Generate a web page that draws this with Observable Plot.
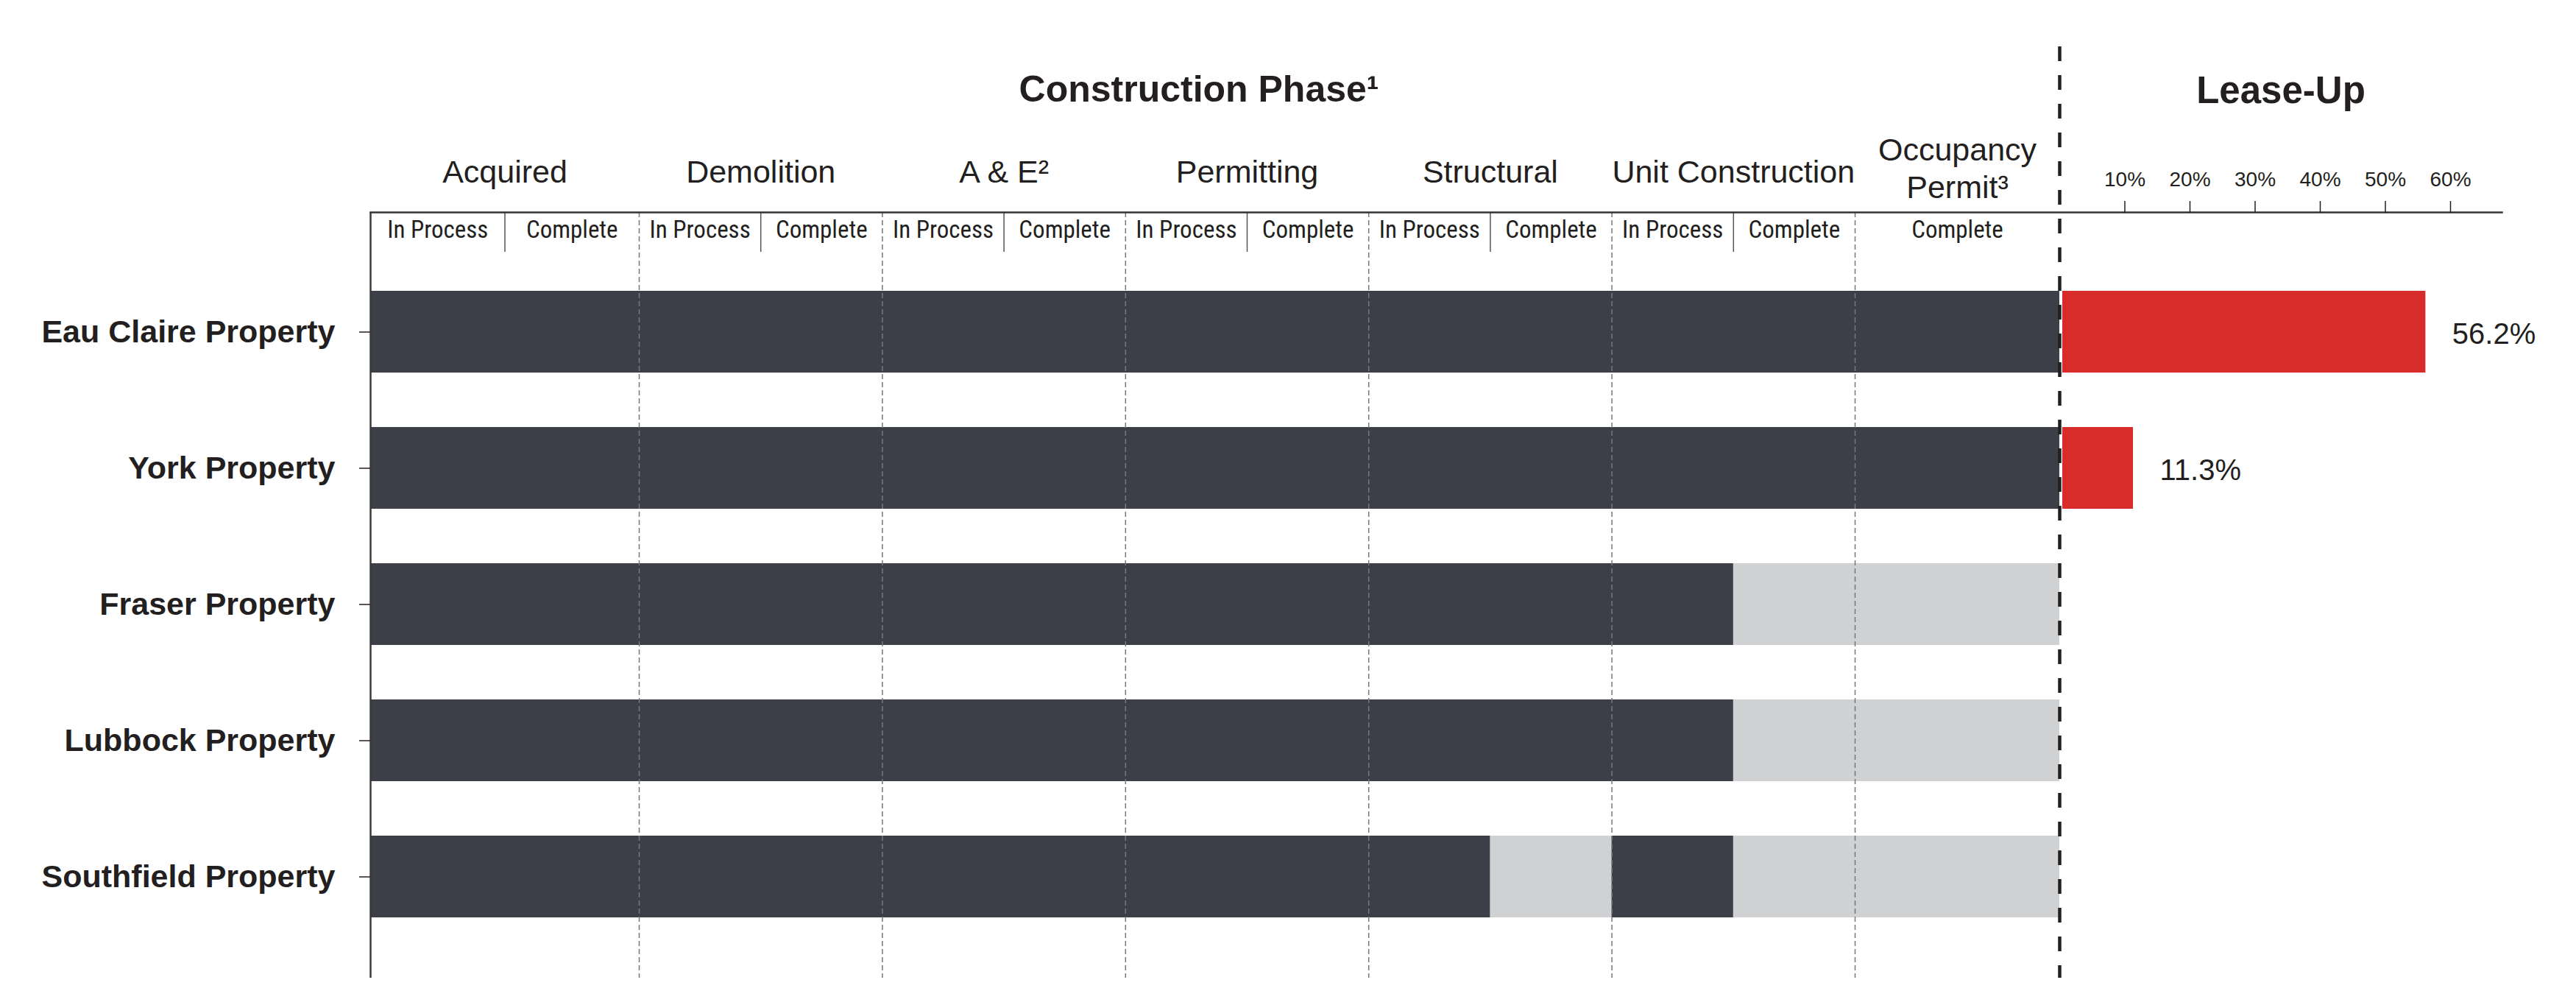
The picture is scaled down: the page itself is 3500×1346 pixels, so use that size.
<!DOCTYPE html>
<html>
<head>
<meta charset="utf-8">
<script src="https://cdn.jsdelivr.net/npm/d3@7"></script>
<script src="https://cdn.jsdelivr.net/npm/@observablehq/plot@0.6"></script>
<style>
  html, body { margin: 0; padding: 0; background: #ffffff; }
  #chart { width: 3500px; height: 1346px; }
</style>
</head>
<body>
<div id="chart"></div>
<script>
// ---------------- data ----------------
const properties = ["Eau Claire Property", "York Property", "Fraser Property", "Lubbock Property", "Southfield Property"];

// construction phases and their sub-steps
const phases = ["Acquired", "Demolition", "A & E²", "Permitting", "Structural", "Unit Construction", "Occupancy\nPermit³"];
const phaseSteps = [
  ["In Process", "Complete"],
  ["In Process", "Complete"],
  ["In Process", "Complete"],
  ["In Process", "Complete"],
  ["In Process", "Complete"],
  ["In Process", "Complete"],
  ["Complete"]
];

// status of each of the 13 steps (1 = done, 0 = outstanding), one list per property
const eauClaireStatus  = [1, 1, 1, 1, 1, 1, 1, 1, 1, 1, 1, 1, 1];
const yorkStatus       = [1, 1, 1, 1, 1, 1, 1, 1, 1, 1, 1, 1, 1];
const fraserStatus     = [1, 1, 1, 1, 1, 1, 1, 1, 1, 1, 1, 0, 0];
const lubbockStatus    = [1, 1, 1, 1, 1, 1, 1, 1, 1, 1, 1, 0, 0];
const southfieldStatus = [1, 1, 1, 1, 1, 1, 1, 1, 1, 0, 1, 0, 0];
const statuses = [eauClaireStatus, yorkStatus, fraserStatus, lubbockStatus, southfieldStatus];

// lease-up (% leased)
const leaseUp = [56.2, 11.3, null, null, null];
const leaseTicks = [10, 20, 30, 40, 50, 60];

const titles = ["Construction Phase¹", "Lease-Up"];

// ---------------- layout / style ----------------
const W = 3500, H = 1346;
const mLeft = 503, mRight = 101, mTop = 288, mBottom = 18;
// x scale: step units 0..13 for construction, then 13..14 = 0..100% lease-up
const xDomain = [0, 2, 12, 13, 14];
const xRange  = [503, 868, 2520, 2798, 3683];
const xs = d3.scaleLinear(xDomain, xRange);
const leaseOrigin = 13;
const leaseX = (p) => leaseOrigin + p / 100;

const DARK = "#3d3f48", LIGHT = "#d0d1d3", RED = "#d62d2a", INK = "#231f20";
const REG = "'Liberation Sans', Arial, Helvetica, sans-serif";
const NARROW = "'Liberation Sans Narrow', 'Roboto Condensed', 'DejaVu Sans Condensed', 'Liberation Sans', sans-serif";

// ---------------- derived tables ----------------
const steps = [];
phases.forEach((ph, p) => phaseSteps[p].forEach(s => steps.push({phase: ph, label: s})));
steps.forEach((s, i) => { s.x1 = i; s.x2 = i + 1; });

const phaseRows = [];
{
  let i = 0;
  phases.forEach((ph, p) => {
    const n = phaseSteps[p].length;
    phaseRows.push({label: ph, x1: i, x2: i + n, lines: ph.split("\n").length});
    i += n;
  });
}
const phaseBounds = phaseRows.slice(1).map(d => d.x1);
const subBounds = steps.filter((s, i) => i > 0 && s.phase === steps[i - 1].phase).map(s => s.x1);

// merge consecutive steps with the same status into segments
const segments = [];
properties.forEach((prop, k) => {
  const st = statuses[k];
  let start = 0;
  for (let i = 1; i <= st.length; i++) {
    if (i === st.length || st[i] !== st[start]) {
      segments.push({property: prop, x1: start, x2: i, done: st[start] === 1});
      start = i;
    }
  }
});

const leaseRows = properties.map((p, k) => ({property: p, value: leaseUp[k]})).filter(d => d.value != null);

const constructionMid = xs.invert((xs(0) + xs(steps.length)) / 2);
const leaseMid = xs.invert((xs(leaseOrigin) + (W - mRight)) / 2);

// ---------------- chart ----------------
const chart = Plot.plot({
  width: W, height: H,
  marginLeft: mLeft, marginRight: mRight, marginTop: mTop, marginBottom: mBottom,
  style: {fontFamily: REG, fontSize: "42px", color: INK, background: "#ffffff", overflow: "visible"},
  x: {type: "linear", domain: xDomain, range: xRange},
  y: {type: "band", domain: properties, range: [321, 1320], padding: 0.4},
  marks: [
    // bars
    Plot.barX(segments.filter(d => !d.done), {x1: "x1", x2: "x2", y: "property", fill: LIGHT}),
    Plot.barX(segments.filter(d => d.done), {x1: "x1", x2: "x2", y: "property", fill: DARK}),
    Plot.barX(leaseRows, {x1: () => leaseOrigin, x2: d => leaseX(d.value), y: "property", fill: RED, insetLeft: 4}),
    // phase dividers (dashed, full height)
    Plot.ruleX(phaseBounds, {stroke: "#77787b", strokeWidth: 1.5, strokeDasharray: "7,4"}),
    // sub-step dividers (solid, header row only)
    Plot.ruleX(subBounds, {stroke: "#555555", strokeWidth: 1.5, insetBottom: (H - mBottom) - 342}),
    // left axis line
    Plot.ruleX([0], {stroke: "#3a3a3a", strokeWidth: 2.5}),
    // header line
    Plot.frame({anchor: "top", stroke: "#333333", strokeWidth: 2.5}),
    // construction / lease-up separator
    Plot.ruleX([leaseOrigin], {stroke: INK, strokeWidth: 4.5, strokeDasharray: "20,19", insetTop: -225}),
    // axes
    Plot.axisY({tickSize: 15, tickPadding: 33, fontSize: 43, fontWeight: "bold", label: null, strokeWidth: 1.5}),
    Plot.axisX(leaseTicks.map(leaseX), {anchor: "top", tickSize: 16, tickPadding: 20, fontSize: 28, label: null, strokeWidth: 1.5,
      tickFormat: d => `${Math.round((d - leaseOrigin) * 100)}%`}),
    // phase headers
    Plot.text(phaseRows.filter(d => d.lines === 1), {x: d => (d.x1 + d.x2) / 2, text: "label", frameAnchor: "top", lineAnchor: "bottom", dy: -41, fontSize: 43}),
    Plot.text(phaseRows.filter(d => d.lines > 1), {x: d => (d.x1 + d.x2) / 2, text: "label", frameAnchor: "top", lineAnchor: "bottom", dy: -20, fontSize: 43, lineHeight: 1.17}),
    // step headers
    Plot.text(steps, {x: d => (d.x1 + d.x2) / 2, text: "label", frameAnchor: "top", lineAnchor: "bottom", dy: 34, fontSize: 33, fontFamily: NARROW}),
    // section titles
    Plot.text([titles[0]], {x: () => constructionMid, text: d => d, frameAnchor: "top", lineAnchor: "bottom", dx: -22, dy: -151, fontSize: 50, fontWeight: "bold"}),
    Plot.text([titles[1]], {x: () => leaseMid, text: d => d, frameAnchor: "top", lineAnchor: "bottom", dy: -149, fontSize: 51, fontWeight: "bold"}),
    // lease-up values
    Plot.text(leaseRows, {x: d => leaseX(d.value), y: "property", text: d => `${d.value.toFixed(1)}%`, textAnchor: "start", dx: 36, dy: 3, fontSize: 40})
  ]
});
document.getElementById("chart").appendChild(chart);
</script>
</body>
</html>
